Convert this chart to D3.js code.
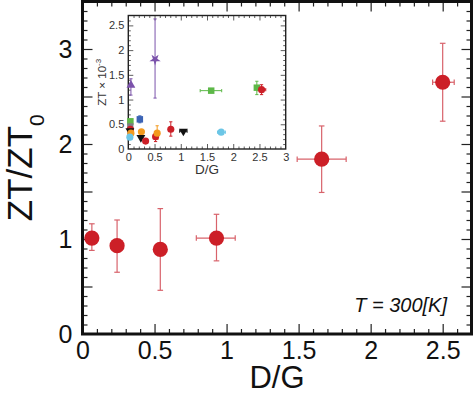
<!DOCTYPE html>
<html>
<head>
<meta charset="utf-8">
<script src="https://cdn.jsdelivr.net/npm/d3@7"></script>
<style>
  body { margin: 0; background: #fff; }
  svg { display: block; font-family: "Liberation Sans", Arial, Helvetica, sans-serif; }
</style>
</head>
<body>
<svg id="chart"></svg>
<script>
// main plot: ZT/ZT0 vs D/G
const mainX   = [0.065, 0.24, 0.54, 0.93, 1.66, 2.5];
const mainY   = [1.01, 0.93, 0.89, 1.01, 1.84, 2.65];
const mainYLo = [0.88, 0.65, 0.46, 0.77, 1.49, 2.24];
const mainYHi = [1.16, 1.20, 1.32, 1.26, 2.19, 3.06];
const mainXLo = [null, null, null, 0.79, 1.49, 2.43];
const mainXHi = [null, null, null, 1.06, 1.83, 2.58];

const mainXTicks = [0, 0.5, 1, 1.5, 2, 2.5];
const mainYTicks = [0, 1, 2, 3];

// inset: ZT x 10^-3 vs D/G, several samples
const insetKind = ["triUp", "star", "sqGreen", "sqGreen", "sqGreen", "sqBlue", "sqGray",
                   "cRed", "triDown", "cOrange", "cCyan", "cOrange", "triDown", "cRed",
                   "cRed", "cOrange", "cRed", "triDown", "cCyan", "cRed"];
const insetX   = [0.05, 0.51, 0.04, 1.58, 2.45, 0.22, 0.04, 0.04, 0.03, 0.05, 0.03, 0.25, 0.24, 0.33, 0.52, 0.55, 0.81, 1.05, 1.77, 2.54];
const insetY   = [1.29, 1.81, 0.56, 1.18, 1.24, 0.60, 0.46, 0.40, 0.37, 0.32, 0.24, 0.35, 0.23, 0.16, 0.25, 0.32, 0.40, 0.36, 0.34, 1.20];
const insetYLo = [1.09, 1.03, null, 1.14, 1.10, 0.53, null, null, null, null, null, null, null, null, 0.15, 0.20, 0.26, null, null, 1.10];
const insetYHi = [1.42, 2.63, null, 1.22, 1.37, 0.67, null, null, null, null, null, null, null, null, 0.35, 0.47, 0.55, null, null, 1.30];
const insetXLo = [null, null, null, 1.37, null, null, null, null, null, null, null, null, null, null, null, null, null, 0.98, 1.70, 2.47];
const insetXHi = [null, null, null, 1.78, null, null, null, null, null, null, null, null, null, null, null, null, null, 1.12, 1.85, 2.62];

const insetXTicks = [0, 0.5, 1, 1.5, 2, 2.5, 3];
const insetYTicks = [0, 0.5, 1, 1.5, 2, 2.5];

const width = 474, height = 398;
const svg = d3.select("#chart").attr("width", width).attr("height", height);

const fmt = d3.format("~g");

// draws inward minor/major ticks on all four sides, returns nothing
function frameTicks(g, x, y, minorLen, majorLen, step, majorStep) {
  const [x0, x1] = x.domain(), [y0, y1] = y.domain();
  const xs = d3.range(Math.round(x0 / step) + 1, Math.round(x1 / step)).map(i => +(i * step).toFixed(3));
  const ys = d3.range(Math.round(y0 / step) + 1, Math.round(y1 / step)).map(i => +(i * step).toFixed(3));
  const isMajor = v => Math.abs(v / majorStep - Math.round(v / majorStep)) < 1e-6;
  const xMin = xs.filter(v => !isMajor(v)), xMaj = xs.filter(isMajor);
  const yMin = ys.filter(v => !isMajor(v)), yMaj = ys.filter(isMajor);
  const bottom = y.range()[0], top = y.range()[1];
  const left = x.range()[0], right = x.range()[1];

  [[xMin, minorLen], [xMaj, majorLen]].forEach(([vals, len]) => {
    g.append("g").attr("transform", `translate(0,${bottom})`)
      .call(d3.axisBottom(x).tickValues(vals).tickSize(-len).tickFormat(""));
    g.append("g").attr("transform", `translate(0,${top})`)
      .call(d3.axisTop(x).tickValues(vals).tickSize(-len).tickFormat(""));
  });
  [[yMin, minorLen], [yMaj, majorLen]].forEach(([vals, len]) => {
    g.append("g").attr("transform", `translate(${left},0)`)
      .call(d3.axisLeft(y).tickValues(vals).tickSize(-len).tickFormat(""));
    g.append("g").attr("transform", `translate(${right},0)`)
      .call(d3.axisRight(y).tickValues(vals).tickSize(-len).tickFormat(""));
  });
  g.selectAll(".domain").remove();
}

/* ~~~~~~~~~ main chart ~~~~~~~~~ */
const x = d3.scaleLinear().domain([0, 2.7]).range([82.5, 471.5]);
const y = d3.scaleLinear().domain([0, 3.5]).range([334, 1.5]);

const main = svg.append("g").attr("class", "main");

const mainTicks = main.append("g").attr("class", "ticks").attr("stroke-width", 1.2);
frameTicks(mainTicks, x, y, 5, 10, 0.1, 0.5);
mainTicks.selectAll("line").attr("stroke", "#222");

main.append("g")
  .attr("transform", `translate(0,${y.range()[0]})`)
  .call(d3.axisBottom(x).tickValues(mainXTicks).tickSize(0).tickPadding(7).tickFormat(fmt))
  .call(g => g.select(".domain").remove())
  .call(g => g.selectAll("text").attr("font-size", 25).attr("fill", "#111").attr("font-family", null));

main.append("g")
  .attr("transform", `translate(${x.range()[0]},0)`)
  .call(d3.axisLeft(y).tickValues(mainYTicks).tickSize(0).tickPadding(10).tickFormat(fmt))
  .call(g => g.select(".domain").remove())
  .call(g => g.selectAll("text").attr("font-size", 25).attr("fill", "#111").attr("font-family", null));

main.append("rect")
  .attr("x", x.range()[0]).attr("y", y.range()[1])
  .attr("width", x.range()[1] - x.range()[0]).attr("height", y.range()[0] - y.range()[1])
  .attr("fill", "none").attr("stroke", "#111").attr("stroke-width", 3);

// axis titles
main.append("text")
  .attr("x", (x.range()[0] + x.range()[1]) / 2).attr("y", 388)
  .attr("text-anchor", "middle").attr("font-size", 31).attr("fill", "#111")
  .text("D/G");

const yTitle = main.append("text")
  .attr("transform", `translate(32,${(y.range()[0] + y.range()[1]) / 2}) rotate(-90)`)
  .attr("text-anchor", "middle").attr("font-size", 35).attr("fill", "#111");
yTitle.append("tspan").text("ZT/ZT");
yTitle.append("tspan").attr("font-size", 21).attr("dy", 12).text("0");

main.append("text")
  .attr("x", 447).attr("y", 312)
  .attr("text-anchor", "end").attr("font-size", 20).attr("font-style", "italic").attr("fill", "#111")
  .text("T = 300[K]");

// error bars + points
const errColor = "#d8636b", dotColor = "#cc1f27", cap = 2.8;
const mainErr = main.append("g").attr("class", "errors").attr("stroke", errColor).attr("stroke-width", 1.2);
mainX.forEach((d, i) => {
  const cx = x(d), cy = y(mainY[i]);
  mainErr.append("line").attr("x1", cx).attr("x2", cx).attr("y1", y(mainYLo[i])).attr("y2", y(mainYHi[i]));
  [mainYLo[i], mainYHi[i]].forEach(v =>
    mainErr.append("line").attr("x1", cx - cap).attr("x2", cx + cap).attr("y1", y(v)).attr("y2", y(v)));
  if (mainXLo[i] != null) {
    mainErr.append("line").attr("x1", x(mainXLo[i])).attr("x2", x(mainXHi[i])).attr("y1", cy).attr("y2", cy);
    [mainXLo[i], mainXHi[i]].forEach(v =>
      mainErr.append("line").attr("x1", x(v)).attr("x2", x(v)).attr("y1", cy - cap).attr("y2", cy + cap));
  }
});

main.append("g").attr("class", "dots")
  .selectAll("circle")
  .data(mainX)
  .join("circle")
  .attr("cx", d => x(d))
  .attr("cy", (d, i) => y(mainY[i]))
  .attr("r", 7.6)
  .attr("fill", dotColor);

/* ~~~~~~~~~ inset ~~~~~~~~~ */
const ix = d3.scaleLinear().domain([0, 3]).range([128.3, 285.7]);
const iy = d3.scaleLinear().domain([0, 2.7]).range([149, 15.5]);

const inset = svg.append("g").attr("class", "inset");

inset.append("rect")
  .attr("x", ix.range()[0]).attr("y", iy.range()[1])
  .attr("width", ix.range()[1] - ix.range()[0]).attr("height", iy.range()[0] - iy.range()[1])
  .attr("fill", "#fff");

const insetTicks = inset.append("g").attr("class", "ticks").attr("stroke-width", 0.8);
frameTicks(insetTicks, ix, iy, 2.5, 5, 0.1, 0.5);
insetTicks.selectAll("line").attr("stroke", "#333");

inset.append("g")
  .attr("transform", `translate(0,${iy.range()[0]})`)
  .call(d3.axisBottom(ix).tickValues(insetXTicks).tickSize(0).tickPadding(4).tickFormat(fmt))
  .call(g => g.select(".domain").remove())
  .call(g => g.selectAll("text").attr("font-size", 11).attr("fill", "#333").attr("font-family", null));

inset.append("g")
  .attr("transform", `translate(${ix.range()[0]},0)`)
  .call(d3.axisLeft(iy).tickValues(insetYTicks).tickSize(0).tickPadding(4).tickFormat(fmt))
  .call(g => g.select(".domain").remove())
  .call(g => g.selectAll("text").attr("font-size", 11).attr("fill", "#333").attr("font-family", null));

inset.append("rect")
  .attr("x", ix.range()[0]).attr("y", iy.range()[1])
  .attr("width", ix.range()[1] - ix.range()[0]).attr("height", iy.range()[0] - iy.range()[1])
  .attr("fill", "none").attr("stroke", "#222").attr("stroke-width", 1.4);

inset.append("text")
  .attr("x", (ix.range()[0] + ix.range()[1]) / 2).attr("y", 174)
  .attr("text-anchor", "middle").attr("font-size", 13.5).attr("fill", "#333")
  .text("D/G");

const iyTitle = inset.append("text")
  .attr("transform", `translate(106,${(iy.range()[0] + iy.range()[1]) / 2}) rotate(-90)`)
  .attr("text-anchor", "middle").attr("font-size", 11.5).attr("fill", "#333");
iyTitle.append("tspan").text("ZT × 10");
iyTitle.append("tspan").attr("font-size", 8).attr("dy", -5).text("-3");

// marker styles per sample kind
const kindStyle = {
  triUp:   { color: "#7b52ab", shape: d3.symbolTriangle, size: 34, rot: 0 },
  star:    { color: "#7b52ab", shape: d3.symbolStar, size: 40, rot: 180 },
  sqGreen: { color: "#5db848", shape: d3.symbolSquare, size: 42, rot: 0 },
  sqBlue:  { color: "#3b63b5", shape: d3.symbolSquare, size: 42, rot: 0 },
  sqGray:  { color: "#7c7c84", shape: d3.symbolSquare, size: 36, rot: 0 },
  cRed:    { color: "#cc1f27", shape: d3.symbolCircle, size: 40, rot: 0 },
  cOrange: { color: "#f39a1e", shape: d3.symbolCircle, size: 40, rot: 0 },
  cCyan:   { color: "#6cc6e6", shape: d3.symbolCircle, size: 40, rot: 0 },
  triDown: { color: "#111111", shape: d3.symbolTriangle, size: 34, rot: 180 }
};

const insetErr = inset.append("g").attr("class", "errors").attr("stroke-width", 1);
const icap = 1.6;
insetX.forEach((d, i) => {
  const col = kindStyle[insetKind[i]].color;
  const cx = ix(d), cy = iy(insetY[i]);
  if (insetYLo[i] != null) {
    insetErr.append("line").attr("stroke", col).attr("x1", cx).attr("x2", cx).attr("y1", iy(insetYLo[i])).attr("y2", iy(insetYHi[i]));
    [insetYLo[i], insetYHi[i]].forEach(v =>
      insetErr.append("line").attr("stroke", col).attr("x1", cx - icap).attr("x2", cx + icap).attr("y1", iy(v)).attr("y2", iy(v)));
  }
  if (insetXLo[i] != null) {
    insetErr.append("line").attr("stroke", col).attr("x1", ix(insetXLo[i])).attr("x2", ix(insetXHi[i])).attr("y1", cy).attr("y2", cy);
    [insetXLo[i], insetXHi[i]].forEach(v =>
      insetErr.append("line").attr("stroke", col).attr("x1", ix(v)).attr("x2", ix(v)).attr("y1", cy - icap).attr("y2", cy + icap));
  }
});

inset.append("g").attr("class", "markers")
  .selectAll("path")
  .data(insetX)
  .join("path")
  .attr("transform", (d, i) => `translate(${ix(d)},${iy(insetY[i])}) rotate(${kindStyle[insetKind[i]].rot})`)
  .attr("d", (d, i) => d3.symbol(kindStyle[insetKind[i]].shape, kindStyle[insetKind[i]].size)())
  .attr("fill", (d, i) => kindStyle[insetKind[i]].color);
</script>
</body>
</html>
